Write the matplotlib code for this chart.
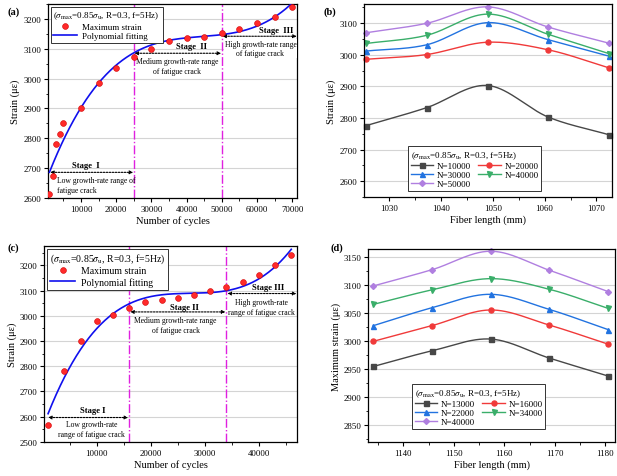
import numpy as np
import matplotlib
matplotlib.use("Agg")
import matplotlib.pyplot as plt
from matplotlib.ticker import MultipleLocator, AutoMinorLocator

plt.rcParams['font.family'] = ['Liberation Serif', 'DejaVu Serif']
plt.rcParams['mathtext.fontset'] = 'stix'
plt.rcParams['axes.linewidth'] = 0.9

# ---------------- data ----------------
cycles_a = [1000, 2000, 3000, 4000, 5000, 10000, 15000, 20000, 25000, 30000,
            35000, 40000, 45000, 50000, 55000, 60000, 65000, 70000]
strain_a = [2613, 2675, 2780, 2816, 2852, 2903, 2985, 3035, 3072, 3100,
            3125, 3135, 3141, 3153, 3167, 3188, 3208, 3240]

cycles_c = [1000, 4000, 7000, 10000, 13000, 16000, 19000, 22000, 25000, 28000,
            31000, 34000, 37000, 40000, 43000, 46000]
strain_c = [2567, 2781, 2900, 2980, 3002, 3030, 3056, 3061, 3072, 3083,
            3097, 3112, 3135, 3161, 3200, 3240]

fiber_b = [1025.6, 1037.3, 1049.0, 1060.7, 1072.4]
labels_b = ['N=10000', 'N=20000', 'N=30000', 'N=40000', 'N=50000']
values_b = [
    [2776, 2833, 2903, 2803, 2747],
    [2986, 3001, 3040, 3016, 2959],
    [3012, 3032, 3102, 3048, 2996],
    [3036, 3062, 3129, 3065, 3004],
    [3070, 3100, 3152, 3088, 3037],
]

fiber_d = [1134.1, 1145.7, 1157.3, 1168.9, 1180.5]
labels_d = ['N=13000', 'N=16000', 'N=22000', 'N=34000', 'N=40000']
values_d = [
    [2955, 2983, 3004, 2970, 2938],
    [3000, 3028, 3056, 3029, 2995],
    [3028, 3060, 3084, 3057, 3021],
    [3066, 3092, 3112, 3093, 3059],
    [3099, 3128, 3161, 3127, 3089],
]

series_colors = ['#474747', '#f03a3a', '#2273e0', '#3aae6a', '#b07fe0']
series_markers = ['s', 'o', '^', 'v', 'D']

legend_title = r'($\sigma_{\rm max}$=0.85$\sigma_{\rm u}$, R=0.3, f=5Hz)'

FS_TICK = 6.3
FS_LAB = 7.5
FS_LEG = 6.5
FS_ANN = 5.5
FS_STAGE = 6.2


def smooth(x, y, n=60):
    x = np.asarray(x, float)
    y = np.asarray(y, float)
    m = np.zeros_like(y)
    m[1:-1] = (y[2:] - y[:-2]) / (x[2:] - x[:-2])
    m[0] = (y[1] - y[0]) / (x[1] - x[0])
    m[-1] = (y[-1] - y[-2]) / (x[-1] - x[-2])
    xs, ys = [], []
    for i in range(len(x) - 1):
        h = x[i + 1] - x[i]
        t = np.linspace(0, 1, n)
        h00 = 2 * t**3 - 3 * t**2 + 1
        h10 = t**3 - 2 * t**2 + t
        h01 = -2 * t**3 + 3 * t**2
        h11 = t**3 - t**2
        xs.append(x[i] + t * h)
        ys.append(h00 * y[i] + h10 * h * m[i] + h01 * y[i + 1] + h11 * h * m[i + 1])
    return np.concatenate(xs), np.concatenate(ys)


def style_axes(ax):
    ax.tick_params(axis='both', which='major', direction='out', length=3,
                   width=0.8, labelsize=FS_TICK, pad=2)
    ax.tick_params(axis='both', which='minor', direction='out', length=1.8, width=0.6)
    ax.xaxis.set_minor_locator(AutoMinorLocator(2))
    ax.yaxis.set_minor_locator(AutoMinorLocator(2))
    ax.yaxis.grid(True, which='major', color='#d4d4d4', linewidth=0.8)
    ax.set_axisbelow(True)


def stage_arrow(ax, x0, x1, y):
    ax.annotate('', xy=(x0, y), xytext=(x1, y),
                arrowprops=dict(arrowstyle='<|-|>', color='black', lw=0.8,
                                linestyle=(0, (1.5, 1.2)), mutation_scale=5,
                                shrinkA=0, shrinkB=0))


def row_major_legend(ax, anchor):
    h, l = ax.get_legend_handles_labels()
    order = [0, 2, 4, 1, 3]
    leg = ax.legend([h[i] for i in order], [l[i] for i in order], title=legend_title,
                    ncol=2, loc='lower left', bbox_to_anchor=anchor,
                    fontsize=FS_LEG, title_fontsize=FS_LEG, alignment='left', frameon=True,
                    fancybox=False, edgecolor='#333333', framealpha=1, borderaxespad=0,
                    borderpad=0.3, handlelength=2.5, handletextpad=0.4, labelspacing=0.1,
                    columnspacing=0.8)
    leg.get_frame().set_linewidth(0.7)
    return leg


fig = plt.figure(figsize=(6.17, 4.77), dpi=100)

# ---------------- (a) ----------------
axa = fig.add_axes([0.0778, 0.5828, 0.4036, 0.4067])
style_axes(axa)
coef_a = np.polyfit(cycles_a, strain_a, 3)
xf = np.linspace(min(cycles_a), max(cycles_a), 300)
axa.plot(xf, np.polyval(coef_a, xf), color='#1010ee', lw=1.2, label='Polynomial fitting', zorder=3)
axa.plot(cycles_a, strain_a, 'o', color='#ff2a2a', mec='#d00000', mew=0.4, ms=4.2,
         label='Maximum strain', zorder=4)
axa.set_xlim(600, 71400)
axa.set_ylim(2600, 3250)
axa.xaxis.set_major_locator(MultipleLocator(10000))
axa.yaxis.set_major_locator(MultipleLocator(100))
for xv in (25000, 50000):
    axa.axvline(xv, color='#e020e0', lw=1.0, ls='-.', zorder=2)
stage_arrow(axa, 1200, 24800, 2686)
axa.text(11400, 2711, 'Stage  I', fontsize=FS_STAGE, fontweight='bold', ha='center', va='center')
axa.text(3300, 2643, 'Low growth-rate range of\nfatigue crack', fontsize=FS_ANN,
         ha='left', va='center', linespacing=1.3)
stage_arrow(axa, 25200, 49800, 3085)
axa.text(41400, 3108, 'Stage  II', fontsize=FS_STAGE, fontweight='bold', ha='center', va='center')
axa.text(37200, 3042, 'Medium growth-rate range\nof fatigue crack', fontsize=FS_ANN,
         ha='center', va='center', linespacing=1.3)
stage_arrow(axa, 50200, 71300, 3142)
axa.text(65600, 3162, 'Stage  III', fontsize=FS_STAGE, fontweight='bold', ha='center', va='center')
axa.text(61000, 3101, 'High growth-rate range\nof fatigue crack', fontsize=FS_ANN,
         ha='center', va='center', linespacing=1.3,
         bbox=dict(facecolor='white', edgecolor='none', pad=0.5))
axa.set_xlabel('Number of cycles', fontsize=FS_LAB, labelpad=2)
axa.set_ylabel('Strain (με)', fontsize=FS_LAB, labelpad=2)
h, l = axa.get_legend_handles_labels()
leg = axa.legend(h[::-1], l[::-1], title=legend_title, loc='upper left', fontsize=FS_LEG,
                 title_fontsize=FS_LEG, alignment='left', frameon=True, fancybox=False,
                 edgecolor='#333333', framealpha=1, borderaxespad=0.3, borderpad=0.3,
                 handlelength=2.6, handletextpad=0.6, labelspacing=0.15)
leg.get_frame().set_linewidth(0.7)
fig.text(0.012, 0.985, '(a)', fontsize=7.5, fontweight='bold', va='top')

# ---------------- (b) ----------------
axb = fig.add_axes([0.590, 0.5849, 0.402, 0.4046])
style_axes(axb)
for vals, lab, c, mk in zip(values_b, labels_b, series_colors, series_markers):
    sx, sy = smooth(fiber_b, vals)
    axb.plot(sx, sy, color=c, lw=1.0)
    axb.plot(fiber_b, vals, mk, color=c, ms=3.6 if mk != 'D' else 3.0, clip_on=False)
    axb.plot([], [], color=c, lw=1.0, marker=mk, ms=3.6 if mk != 'D' else 3.0, label=lab)
axb.set_xlim(1025.2, 1073.0)
axb.set_ylim(2550, 3161)
axb.xaxis.set_major_locator(MultipleLocator(10))
axb.yaxis.set_major_locator(MultipleLocator(100))
axb.set_xlabel('Fiber length (mm)', fontsize=FS_LAB, labelpad=2)
axb.set_ylabel('Strain (με)', fontsize=FS_LAB, labelpad=2)
row_major_legend(axb, (0.177, 0.031))
fig.text(0.525, 0.985, '(b)', fontsize=7.5, fontweight='bold', va='top')

# ---------------- (c) ----------------
axc = fig.add_axes([0.0718, 0.0719, 0.409, 0.411])
style_axes(axc)
coef_c = np.polyfit(cycles_c, strain_c, 3)
xf = np.linspace(min(cycles_c), max(cycles_c), 300)
axc.plot(xf, np.polyval(coef_c, xf), color='#1010ee', lw=1.2, label='Polynomial fitting', zorder=3)
axc.plot(cycles_c, strain_c, 'o', color='#ff2a2a', mec='#d00000', mew=0.4, ms=4.2,
         label='Maximum strain', zorder=4)
axc.set_xlim(300, 47000)
axc.set_ylim(2500, 3278)
axc.xaxis.set_major_locator(MultipleLocator(10000))
axc.yaxis.set_major_locator(MultipleLocator(100))
for xv in (16000, 34000):
    axc.axvline(xv, color='#e020e0', lw=1.0, ls='-.', zorder=2)
stage_arrow(axc, 1000, 15800, 2596)
axc.text(9200, 2626, 'Stage I', fontsize=FS_STAGE, fontweight='bold', ha='center', va='center')
axc.text(9100, 2552, 'Low growth-rate\nrange of fatigue crack', fontsize=FS_ANN,
         ha='center', va='center', linespacing=1.3)
stage_arrow(axc, 16200, 33800, 3015)
axc.text(26300, 3035, 'Stage II', fontsize=FS_STAGE, fontweight='bold', ha='center', va='center')
axc.text(24600, 2962, 'Medium growth-rate range\nof fatigue crack', fontsize=FS_ANN,
         ha='center', va='center', linespacing=1.3)
stage_arrow(axc, 34200, 46950, 3088)
axc.text(41800, 3112, 'Stage III', fontsize=FS_STAGE, fontweight='bold', ha='center', va='center')
axc.text(40550, 3035, 'High growth-rate\nrange of fatigue crack', fontsize=FS_ANN,
         ha='center', va='center', linespacing=1.3,
         bbox=dict(facecolor='white', edgecolor='none', pad=0.5))
axc.set_xlabel('Number of cycles', fontsize=FS_LAB, labelpad=2)
axc.set_ylabel('Strain (με)', fontsize=FS_LAB, labelpad=2)
h, l = axc.get_legend_handles_labels()
leg = axc.legend(h[::-1], l[::-1], title=legend_title, loc='upper left', fontsize=7,
                 title_fontsize=7, alignment='left', frameon=True, fancybox=False,
                 edgecolor='#333333', framealpha=1, borderaxespad=0.3, borderpad=0.3,
                 handlelength=2.6, handletextpad=0.6, labelspacing=0.15)
leg.get_frame().set_linewidth(0.7)
fig.text(0.012, 0.49, '(c)', fontsize=7.5, fontweight='bold', va='top')

# ---------------- (d) ----------------
axd = fig.add_axes([0.597, 0.0713, 0.3998, 0.4046])
style_axes(axd)
for vals, lab, c, mk in zip(values_d, labels_d, series_colors, series_markers):
    sx, sy = smooth(fiber_d, vals)
    axd.plot(sx, sy, color=c, lw=1.0)
    axd.plot(fiber_d, vals, mk, color=c, ms=3.6 if mk != 'D' else 3.0, clip_on=False)
    axd.plot([], [], color=c, lw=1.0, marker=mk, ms=3.6 if mk != 'D' else 3.0, label=lab)
axd.set_xlim(1133.1, 1181.9)
axd.set_ylim(2820, 3165)
axd.xaxis.set_major_locator(MultipleLocator(10))
axd.yaxis.set_major_locator(MultipleLocator(50))
axd.set_xlabel('Fiber length (mm)', fontsize=FS_LAB, labelpad=2)
axd.set_ylabel('Maximum strain (με)', fontsize=FS_LAB, labelpad=2)
row_major_legend(axd, (0.177, 0.067))
fig.text(0.535, 0.49, '(d)', fontsize=7.5, fontweight='bold', va='top')

fig.savefig('out.png', dpi=100)
